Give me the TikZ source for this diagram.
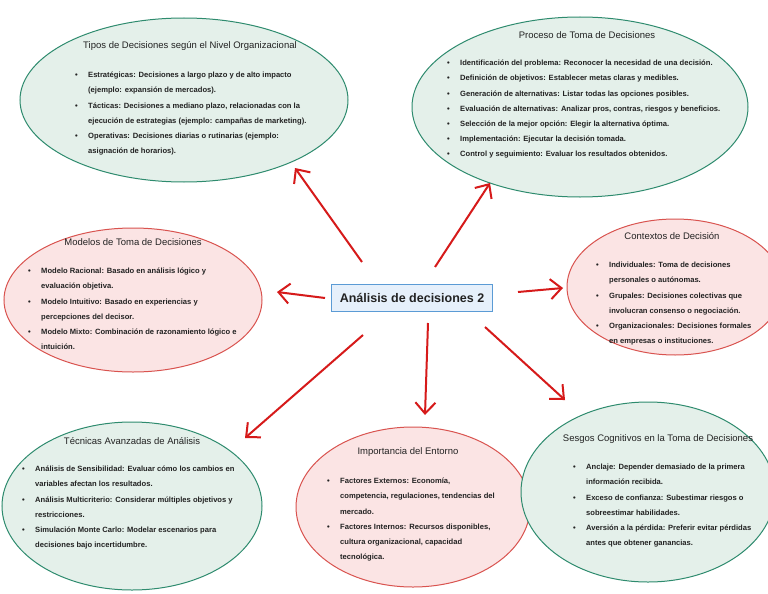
\documentclass[tikz,border=0pt]{standalone}
\usepackage{fontspec}
\setmainfont{Liberation Sans}
\usetikzlibrary{arrows.meta}
\definecolor{gfill}{HTML}{E4F0EA}
\definecolor{gdraw}{HTML}{2E8B6E}
\definecolor{rfill}{HTML}{FBE4E4}
\definecolor{rdraw}{HTML}{D9534F}
\definecolor{txt}{HTML}{222222}
\definecolor{arr}{HTML}{D61A1A}
\definecolor{bdraw}{HTML}{5B9BD5}
\definecolor{bfill}{HTML}{E6F0FB}
\newcommand{\bul}{\makebox[13pt][l]{\textbullet}}
\newcommand{\ind}{\hspace*{13pt}}
\tikzset{
 gell/.style={fill=gfill,draw=gdraw,line width=1pt},
 rell/.style={fill=rfill,draw=rdraw,line width=1pt},
 ttl/.style={font=\fontsize{9.5}{11}\selectfont,text=txt,inner sep=0pt},
 items/.style={anchor=north west,align=left,inner sep=0pt,text=txt,font=\fontsize{7.6}{15.2}\selectfont\bfseries},
 conn/.style={draw=arr,line width=2pt,-{Straight Barb[length=11pt,width=20pt,line width=2pt]}}
}
\begin{document}
\begin{tikzpicture}[x=1pt,y=-1pt]
\useasboundingbox (0,0) rectangle (768,594);
\fill[white] (0,0) rectangle (768,594);
% ellipses
\draw[gell] (184,100) ellipse [x radius=164,y radius=82];
\draw[gell] (580,107) ellipse [x radius=168,y radius=90];
\draw[rell] (133,300) ellipse [x radius=129,y radius=72];
\draw[rell] (675,287) ellipse [x radius=108,y radius=68];
\draw[gell] (132,506) ellipse [x radius=130,y radius=84];
\draw[rell] (413,507) ellipse [x radius=117,y radius=80];
\draw[gell] (648,492) ellipse [x radius=127,y radius=90];
% central
\node[draw=bdraw,fill=bfill,line width=1pt,minimum width=161pt,minimum height=27pt,font=\fontsize{12.5}{14}\selectfont\bfseries,text=txt] (c) at (412,298) {Análisis de decisiones 2};
% Tipos
\node[ttl] (t1) at (190,46) {Tipos de Decisiones según el Nivel Organizacional};
\node[items] (i1) at (75,72) {\bul Estratégicas: Decisiones a largo plazo y de alto impacto\\ \ind(ejemplo: expansión de mercados).\\ \bul Tácticas: Decisiones a mediano plazo, relacionadas con la\\ \ind ejecución de estrategias (ejemplo: campañas de marketing).\\ \bul Operativas: Decisiones diarias o rutinarias (ejemplo:\\ \ind asignación de horarios).};
% Proceso
\node[ttl] (t2) at (587,35) {Proceso de Toma de Decisiones};
\node[items] (i2) at (447,60) {\bul Identificación del problema: Reconocer la necesidad de una decisión.\\ \bul Definición de objetivos: Establecer metas claras y medibles.\\ \bul Generación de alternativas: Listar todas las opciones posibles.\\ \bul Evaluación de alternativas: Analizar pros, contras, riesgos y beneficios.\\ \bul Selección de la mejor opción: Elegir la alternativa óptima.\\ \bul Implementación: Ejecutar la decisión tomada.\\ \bul Control y seguimiento: Evaluar los resultados obtenidos.};
% Modelos
\node[ttl] (t3) at (133,242) {Modelos de Toma de Decisiones};
\node[items] (i3) at (28,268) {\bul Modelo Racional: Basado en análisis lógico y\\ \ind evaluación objetiva.\\ \bul Modelo Intuitivo: Basado en experiencias y\\ \ind percepciones del decisor.\\ \bul Modelo Mixto: Combinación de razonamiento lógico e\\ \ind intuición.};
% Contextos
\node[ttl] (t4) at (672,236) {Contextos de Decisión};
\node[items] (i4) at (596,262) {\bul Individuales: Toma de decisiones\\ \ind personales o autónomas.\\ \bul Grupales: Decisiones colectivas que\\ \ind involucran consenso o negociación.\\ \bul Organizacionales: Decisiones formales\\ \ind en empresas o instituciones.};
% Técnicas
\node[ttl] (t5) at (132,441) {Técnicas Avanzadas de Análisis};
\node[items] (i5) at (22,466) {\bul Análisis de Sensibilidad: Evaluar cómo los cambios en\\ \ind variables afectan los resultados.\\ \bul Análisis Multicriterio: Considerar múltiples objetivos y\\ \ind restricciones.\\ \bul Simulación Monte Carlo: Modelar escenarios para\\ \ind decisiones bajo incertidumbre.};
% Importancia
\node[ttl] (t6) at (408,452) {Importancia del Entorno};
\node[items] (i6) at (327,478) {\bul Factores Externos: Economía,\\ \ind competencia, regulaciones, tendencias del\\ \ind mercado.\\ \bul Factores Internos: Recursos disponibles,\\ \ind cultura organizacional, capacidad\\ \ind tecnológica.};
% Sesgos
\node[ttl] (t7) at (658,439) {Sesgos Cognitivos en la Toma de Decisiones};
\node[items] (i7) at (573,464) {\bul Anclaje: Depender demasiado de la primera\\ \ind información recibida.\\ \bul Exceso de confianza: Subestimar riesgos o\\ \ind sobreestimar habilidades.\\ \bul Aversión a la pérdida: Preferir evitar pérdidas\\ \ind antes que obtener ganancias.};
% arrow endpoints
\coordinate (a1s) at (362,262); \coordinate (a1e) at (295,168);
\coordinate (a2s) at (435,267); \coordinate (a2e) at (490,183);
\coordinate (a3s) at (325,298); \coordinate (a3e) at (277,292);
\coordinate (a4s) at (518,292); \coordinate (a4e) at (563,288);
\coordinate (a5s) at (363,335); \coordinate (a5e) at (245,438);
\coordinate (a6s) at (428,323); \coordinate (a6e) at (425,415);
\coordinate (a7s) at (485,327); \coordinate (a7e) at (565,400);
\foreach \i in {1,...,7}{\draw[conn] (a\i s) -- (a\i e);}
\end{tikzpicture}
\end{document}
